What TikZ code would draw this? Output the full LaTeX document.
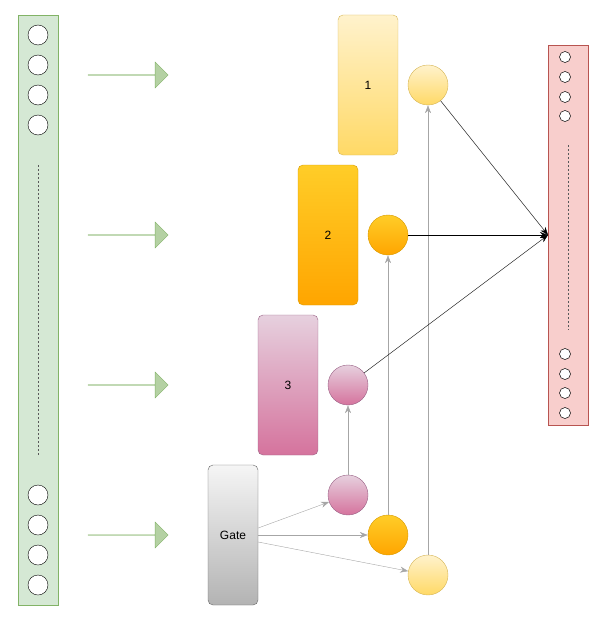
\documentclass[tikz,border=0pt]{standalone}
\usepackage{fontspec}
\setmainfont{Liberation Sans}
\usetikzlibrary{shapes.arrows,arrows.meta}
\definecolor{gfill}{HTML}{D5E8D4}\definecolor{gline}{HTML}{82B366}
\definecolor{yA}{HTML}{FFF2CC}\definecolor{yB}{HTML}{FFD966}\definecolor{yL}{HTML}{D6B656}
\definecolor{oA}{HTML}{FFCD28}\definecolor{oB}{HTML}{FFA500}\definecolor{oL}{HTML}{D79B00}
\definecolor{pA}{HTML}{E6D0DE}\definecolor{pB}{HTML}{D5739D}\definecolor{pL}{HTML}{996185}
\definecolor{kA}{HTML}{F5F5F5}\definecolor{kB}{HTML}{B3B3B3}\definecolor{kL}{HTML}{666666}
\definecolor{rfill}{HTML}{F8CECC}\definecolor{rline}{HTML}{B85450}
\begin{document}
\begin{tikzpicture}[x=1pt,y=-1pt,
  unit/.style={circle,draw,fill=white,minimum size=20pt,inner sep=0pt},
  sunit/.style={circle,draw,fill=white,minimum size=11pt,inner sep=0pt,line width=0.5pt},
  expert/.style={draw=#1L,top color=#1A,bottom color=#1B,rounded corners=5pt,minimum width=60pt,minimum height=140pt,font=\large},
  out/.style={circle,draw=#1L,top color=#1A,bottom color=#1B,minimum size=40pt,inner sep=0pt},
  big/.style={single arrow,draw=gline,fill=gline!60,minimum height=80pt,minimum width=30pt,single arrow head extend=10pt,single arrow tip angle=90,inner sep=0pt},
  garr/.style={draw=gray!70,-{Stealth[length=8pt,width=6pt]}},
  karr/.style={-{Stealth[length=8pt,width=6pt]}}]
\useasboundingbox (0,0) rectangle (605,626);
% input column
\draw[gline,fill=gfill] (18,15) rectangle (58,605);
\foreach \y [count=\i] in {35,65,95,125,495,525,555,585} \node[unit] (in\i) at (38,\y) {};
\draw[dashed,dash pattern=on 2pt off 2pt,gray!70!black] (38,165) -- (38,455);
% green arrows
\foreach \y [count=\i] in {75,235,385,535}
  \node[big,shape border rotate=0,minimum height=80pt,minimum width=26pt] (ga\i) at (128,\y) {};
% experts
\node[expert=y] (e1) at (368,85) {1};
\node[expert=o] (e2) at (328,235) {2};
\node[expert=p] (e3) at (288,385) {3};
\node[expert=k,minimum width=50pt] (gate) at (233,535) {Gate};
% outputs
\node[out=y] (c1) at (428,85) {};
\node[out=o] (c2) at (388,235) {};
\node[out=p] (c3) at (348,385) {};
\node[out=p] (g3) at (348,495) {};
\node[out=o] (g2) at (388,535) {};
\node[out=y] (g1) at (428,575) {};
% output column
\draw[rline,fill=rfill] (548,45) rectangle (588,425);
\foreach \y [count=\i] in {57,77,97,116,354,374,393,413} \node[sunit] (o\i) at (565,\y) {};
\draw[dash pattern=on 2pt off 2pt,gray!70!black] (568,145) -- (568,330);
\coordinate (tgt) at (548,235);
% connectors
\draw[garr] (gate.east) ++(0,-7) -- (g3);
\draw[garr] (gate.east) -- (g2);
\draw[garr] (gate.east) ++(0,7) -- (g1);
\draw[garr] (g3) -- (c3);
\draw[garr] (g2) -- (c2);
\draw[garr] (g1) -- (c1);
\draw[karr] (c1) -- (tgt);
\draw[karr] (c2) -- (tgt);
\draw[karr] (c3) -- (tgt);
\end{tikzpicture}
\end{document}
